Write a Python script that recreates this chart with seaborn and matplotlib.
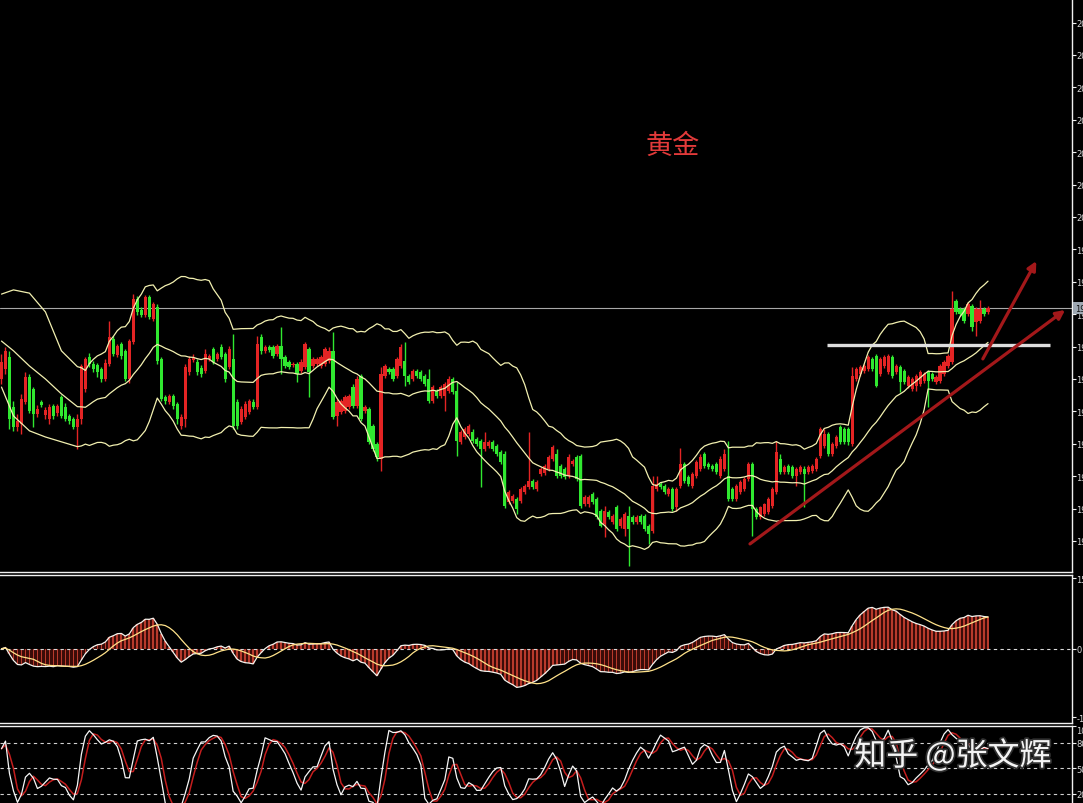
import numpy as np
import pandas as pd
import matplotlib
matplotlib.use("Agg")
import matplotlib.pyplot as plt
import seaborn as sns
from matplotlib import patheffects

# ---------------- hourly gold candles (oldest first) ----------------
opens = [
    1950.0, 1953.1, 1956.8, 1941.4, 1935.2, 1936.2, 1942.9, 1950.6, 1946.9, 1939.2,
    1942.9, 1938.9, 1937.7, 1941.7, 1939.5, 1944.5, 1941.4, 1938.6, 1937.7, 1935.2,
    1937.7, 1946.9, 1956.8, 1954.6, 1954.3, 1953.1, 1950.0, 1954.6, 1962.4, 1957.4,
    1960.8, 1958.7, 1950.0, 1961.4, 1974.7, 1971.3, 1969.8, 1975.3, 1968.5, 1972.2,
    1956.2, 1944.5, 1942.9, 1944.8, 1942.3, 1935.5, 1937.7, 1952.2, 1955.9, 1955.3,
    1953.4, 1952.5, 1956.2, 1959.3, 1956.2, 1959.9, 1957.8, 1953.7, 1956.2, 1942.9,
    1936.8, 1938.3, 1939.8, 1942.9, 1941.4, 1963.0, 1958.7, 1959.9, 1959.9, 1957.8,
    1960.2, 1956.8, 1955.3, 1954.3, 1954.6, 1952.5, 1953.7, 1959.3, 1954.0, 1954.6,
    1954.0, 1954.6, 1955.6, 1958.7, 1938.6, 1939.8, 1940.2, 1941.4, 1947.5, 1941.7,
    1951.0, 1940.2, 1940.8, 1935.5, 1929.9, 1925.3, 1951.0, 1953.1, 1953.1, 1951.0,
    1954.0, 1955.6, 1951.0, 1950.0, 1952.5, 1952.2, 1951.0, 1950.0, 1943.3, 1946.3,
    1944.8, 1944.8, 1946.3, 1950.0, 1946.3, 1930.6, 1932.1, 1933.1, 1933.7, 1931.5,
    1930.9, 1928.4, 1929.3, 1930.6, 1929.3, 1927.5, 1926.9, 1912.1, 1912.4, 1913.0,
    1912.4, 1915.1, 1916.7, 1918.5, 1916.1, 1920.7, 1921.0, 1922.3, 1925.3, 1926.9,
    1923.2, 1922.3, 1920.1, 1923.8, 1925.9, 1926.2, 1911.4, 1911.4, 1914.5, 1913.0,
    1909.3, 1905.3, 1909.0, 1905.9, 1910.5, 1904.7, 1903.7, 1907.7, 1907.4, 1905.9,
    1907.7, 1907.7, 1904.7, 1903.1, 1916.1, 1917.6, 1917.0, 1914.5, 1916.1, 1910.5,
    1917.0, 1923.8, 1919.8, 1917.0, 1920.1, 1922.3, 1926.9, 1923.8, 1923.2, 1923.8,
    1920.1, 1922.3, 1920.1, 1916.1, 1913.0, 1915.1, 1916.1, 1919.2, 1923.8, 1909.9,
    1907.4, 1908.3, 1909.0, 1910.8, 1915.1, 1925.3, 1921.3, 1923.2, 1922.9, 1920.1,
    1921.3, 1922.3, 1921.3, 1921.6, 1922.3, 1926.2, 1929.3, 1933.1, 1926.9, 1929.3,
    1935.2, 1934.6, 1934.6, 1929.9, 1950.0, 1951.5, 1952.5, 1953.1, 1956.2, 1957.1,
    1951.5, 1954.0, 1952.2, 1956.8, 1952.2, 1953.7, 1952.5, 1947.9, 1946.9, 1947.9,
    1948.5, 1949.4, 1952.2, 1951.5, 1949.1, 1949.4, 1951.5, 1954.0, 1955.3, 1974.1,
    1971.6, 1971.6, 1970.1, 1972.5, 1967.6, 1967.9, 1971.6, 1970.7,
]
highs = [
    1957.8, 1959.9, 1958.7, 1943.3, 1939.2, 1945.4, 1952.2, 1951.5, 1947.5, 1942.0,
    1943.6, 1941.4, 1942.3, 1942.3, 1942.3, 1945.1, 1942.6, 1939.2, 1938.3, 1939.2,
    1954.6, 1956.8, 1958.1, 1955.5, 1954.9, 1953.7, 1956.2, 1967.9, 1963.3, 1960.8,
    1961.4, 1959.3, 1962.4, 1976.2, 1975.6, 1972.2, 1975.9, 1975.9, 1973.8, 1973.2,
    1956.8, 1945.1, 1945.4, 1945.4, 1942.9, 1939.2, 1954.6, 1957.1, 1957.8, 1956.2,
    1954.3, 1959.3, 1957.8, 1959.9, 1958.4, 1960.8, 1958.4, 1960.2, 1963.9, 1943.9,
    1941.7, 1943.3, 1943.9, 1943.9, 1963.3, 1963.9, 1960.5, 1960.5, 1960.5, 1960.8,
    1966.1, 1957.4, 1955.9, 1955.3, 1955.3, 1956.2, 1961.4, 1959.9, 1956.8, 1956.8,
    1957.4, 1959.9, 1959.9, 1964.5, 1943.9, 1943.9, 1945.1, 1945.4, 1948.5, 1951.0,
    1951.6, 1942.0, 1941.4, 1936.2, 1930.5, 1953.7, 1954.6, 1953.7, 1953.7, 1956.8,
    1960.8, 1961.4, 1951.5, 1953.1, 1953.1, 1952.8, 1951.5, 1953.1, 1948.2, 1946.9,
    1948.2, 1949.1, 1951.0, 1950.6, 1949.1, 1934.3, 1935.2, 1936.1, 1934.6, 1932.1,
    1931.5, 1933.7, 1931.2, 1931.2, 1929.9, 1928.1, 1927.8, 1915.7, 1914.5, 1913.6,
    1916.7, 1917.6, 1933.7, 1919.2, 1918.8, 1922.9, 1923.8, 1926.6, 1929.6, 1928.4,
    1923.8, 1922.9, 1926.9, 1925.3, 1926.6, 1926.9, 1914.2, 1914.2, 1915.1, 1913.6,
    1909.9, 1910.8, 1909.6, 1908.3, 1911.1, 1907.4, 1909.0, 1910.8, 1908.0, 1908.0,
    1908.3, 1908.3, 1905.3, 1920.1, 1920.1, 1918.2, 1917.6, 1916.7, 1916.7, 1916.7,
    1928.8, 1924.4, 1920.4, 1921.3, 1925.0, 1926.9, 1927.5, 1924.4, 1923.8, 1924.4,
    1926.2, 1928.4, 1930.9, 1916.7, 1917.6, 1918.8, 1919.8, 1924.4, 1924.4, 1910.5,
    1910.8, 1911.7, 1913.6, 1916.7, 1930.9, 1926.9, 1923.5, 1923.8, 1923.5, 1922.9,
    1923.5, 1923.2, 1923.5, 1923.8, 1925.9, 1935.2, 1934.6, 1933.7, 1930.5, 1932.7,
    1935.8, 1935.2, 1935.2, 1953.7, 1953.7, 1954.3, 1954.6, 1957.4, 1956.8, 1957.8,
    1956.8, 1957.4, 1957.8, 1957.4, 1954.6, 1954.3, 1953.1, 1951.2, 1950.6, 1951.5,
    1952.8, 1952.2, 1952.8, 1952.2, 1951.2, 1954.6, 1955.9, 1957.8, 1977.2, 1974.7,
    1972.2, 1972.2, 1973.8, 1973.2, 1972.2, 1974.4, 1972.2, 1972.5,
]
lows = [
    1948.5, 1951.5, 1934.6, 1934.0, 1934.0, 1933.1, 1942.3, 1939.5, 1935.2, 1938.3,
    1941.4, 1937.7, 1936.2, 1937.7, 1938.6, 1938.0, 1937.1, 1936.2, 1934.6, 1928.4,
    1936.2, 1946.0, 1953.7, 1952.2, 1950.6, 1949.1, 1949.4, 1954.0, 1957.1, 1956.8,
    1956.2, 1949.4, 1948.8, 1960.8, 1969.8, 1969.1, 1969.1, 1968.5, 1967.9, 1954.6,
    1943.3, 1942.3, 1942.3, 1940.8, 1936.2, 1934.6, 1935.2, 1951.2, 1955.3, 1951.2,
    1950.6, 1951.9, 1955.6, 1954.6, 1955.6, 1956.2, 1949.1, 1953.1, 1934.6, 1934.6,
    1936.2, 1937.7, 1939.2, 1940.8, 1940.8, 1957.8, 1958.1, 1958.4, 1956.5, 1957.1,
    1951.5, 1953.4, 1953.1, 1953.7, 1949.1, 1951.9, 1953.1, 1944.5, 1953.4, 1954.0,
    1953.4, 1954.0, 1954.9, 1937.7, 1935.5, 1939.2, 1939.5, 1940.8, 1941.1, 1941.1,
    1937.1, 1939.5, 1929.9, 1927.8, 1924.7, 1921.6, 1950.3, 1951.5, 1949.4, 1950.3,
    1953.4, 1947.9, 1948.5, 1949.4, 1950.3, 1949.4, 1947.9, 1942.6, 1942.6, 1944.2,
    1944.2, 1940.2, 1945.7, 1945.4, 1926.2, 1929.9, 1931.5, 1932.4, 1930.3, 1929.3,
    1916.7, 1927.8, 1928.7, 1927.8, 1926.2, 1923.8, 1910.2, 1911.4, 1911.8, 1908.3,
    1911.8, 1914.5, 1916.1, 1916.1, 1915.4, 1920.1, 1920.4, 1921.6, 1924.7, 1919.5,
    1919.5, 1919.2, 1919.5, 1923.2, 1918.5, 1910.2, 1910.8, 1910.5, 1911.4, 1906.8,
    1904.4, 1901.3, 1906.8, 1905.3, 1903.1, 1904.0, 1901.6, 1892.3, 1905.3, 1905.3,
    1905.3, 1903.1, 1899.1, 1902.5, 1915.4, 1916.1, 1914.5, 1913.9, 1909.3, 1909.3,
    1916.4, 1917.9, 1917.0, 1916.4, 1919.5, 1921.6, 1922.6, 1922.3, 1921.6, 1920.7,
    1919.5, 1921.6, 1912.4, 1912.4, 1912.4, 1914.5, 1915.4, 1918.5, 1901.6, 1906.8,
    1906.8, 1907.7, 1908.3, 1910.2, 1914.5, 1920.7, 1920.7, 1920.7, 1919.5, 1917.0,
    1920.7, 1910.5, 1920.7, 1921.0, 1921.6, 1925.6, 1928.7, 1926.2, 1926.2, 1928.7,
    1929.9, 1929.9, 1929.6, 1929.3, 1949.4, 1950.9, 1951.9, 1952.5, 1952.5, 1947.6,
    1950.9, 1953.4, 1951.5, 1950.3, 1951.5, 1946.0, 1948.5, 1947.2, 1946.3, 1946.3,
    1947.9, 1948.8, 1941.4, 1949.4, 1948.5, 1948.8, 1950.9, 1953.4, 1954.6, 1970.1,
    1969.5, 1967.3, 1969.5, 1964.8, 1963.3, 1967.3, 1969.5, 1970.1,
]
closes = [
    1955.3, 1958.7, 1937.7, 1935.2, 1937.1, 1943.9, 1950.6, 1940.2, 1939.2, 1940.8,
    1942.0, 1940.5, 1941.4, 1938.6, 1941.7, 1938.6, 1937.7, 1937.1, 1935.2, 1937.7,
    1954.0, 1956.2, 1954.6, 1953.1, 1952.2, 1950.0, 1954.9, 1963.0, 1957.8, 1960.2,
    1957.1, 1950.0, 1961.8, 1974.7, 1970.7, 1969.8, 1975.3, 1969.1, 1973.2, 1955.5,
    1943.9, 1943.3, 1944.8, 1941.7, 1937.7, 1938.3, 1953.7, 1956.2, 1956.5, 1952.2,
    1951.5, 1957.8, 1957.1, 1955.3, 1957.8, 1956.8, 1950.0, 1959.3, 1935.5, 1935.5,
    1940.8, 1942.3, 1943.3, 1941.4, 1960.8, 1958.7, 1959.9, 1959.0, 1957.1, 1960.2,
    1956.2, 1954.0, 1953.7, 1954.6, 1951.5, 1955.3, 1960.8, 1952.2, 1956.2, 1956.2,
    1956.8, 1959.3, 1958.7, 1938.3, 1942.9, 1943.3, 1944.5, 1944.8, 1941.7, 1950.0,
    1937.7, 1941.4, 1930.6, 1928.4, 1925.9, 1951.5, 1954.0, 1952.2, 1950.0, 1956.2,
    1959.9, 1951.0, 1949.1, 1952.5, 1951.0, 1950.0, 1948.5, 1943.3, 1947.5, 1944.8,
    1947.5, 1948.5, 1950.0, 1946.0, 1930.9, 1933.7, 1934.6, 1935.5, 1930.9, 1929.9,
    1928.4, 1930.6, 1930.6, 1928.4, 1926.9, 1924.4, 1910.8, 1915.1, 1913.9, 1909.9,
    1916.1, 1917.0, 1918.5, 1916.7, 1918.2, 1922.3, 1923.2, 1925.9, 1929.0, 1920.1,
    1920.1, 1919.8, 1925.9, 1924.7, 1919.2, 1910.8, 1913.6, 1913.6, 1912.1, 1907.4,
    1904.7, 1909.3, 1907.4, 1907.7, 1903.7, 1906.8, 1908.3, 1903.7, 1905.9, 1907.4,
    1905.9, 1903.7, 1902.2, 1917.0, 1917.6, 1916.7, 1915.1, 1916.1, 1909.9, 1916.1,
    1923.8, 1918.5, 1917.6, 1920.7, 1924.4, 1925.9, 1923.2, 1922.9, 1922.3, 1921.3,
    1925.3, 1926.9, 1913.0, 1913.0, 1917.0, 1918.2, 1919.2, 1923.8, 1909.9, 1907.4,
    1910.5, 1911.4, 1913.0, 1916.1, 1927.5, 1921.3, 1922.9, 1921.3, 1920.1, 1922.3,
    1922.9, 1920.7, 1922.9, 1923.2, 1925.3, 1934.6, 1933.1, 1926.9, 1929.9, 1932.1,
    1930.6, 1930.6, 1930.6, 1951.0, 1953.1, 1953.7, 1954.0, 1956.8, 1953.1, 1947.9,
    1956.2, 1956.8, 1957.1, 1951.0, 1954.0, 1949.1, 1949.1, 1950.6, 1950.0, 1951.0,
    1952.2, 1951.5, 1949.4, 1950.0, 1950.6, 1954.0, 1955.3, 1957.1, 1971.6, 1970.7,
    1970.1, 1967.9, 1973.2, 1966.1, 1971.6, 1971.6, 1970.1, 1971.9,
]

# Bollinger values for the first bars, before a full 20-bar window exists
band_head_bars = [0, 3, 7, 11, 15]
band_head_upper = [1976.2, 1977.5, 1976.5, 1970.7, 1958.7]
band_head_mid = [1961.7, 1958.7, 1954.0, 1950.0, 1945.4]
band_head_lower = [1947.5, 1938.6, 1934.0, 1932.1, 1930.6]

price_ticks = list(range(1900, 2061, 10))
stoch_ticks = [100, 80, 50, 20, 0]
stoch_levels = [80, 50, 20]

# hand-drawn annotations: (bar, price)
support_level = 1960.4
support_span = (206.7, 262.5)
trend_arrow = ((187.4, 1899.1), (266.3, 1971.3))
breakout_arrow = ((245.7, 1956.2), (259.1, 1986.4))

title_text = "黄金"
watermark_text = "知乎 @张文辉"

# ---------------- indicators ----------------
df = pd.DataFrame({"open": opens, "high": highs, "low": lows, "close": closes})
n = len(df)
bars = np.arange(n)

mid = df["close"].rolling(20).mean()
sd = df["close"].rolling(20).std(ddof=0)
upper = mid + 2 * sd
lower = mid - 2 * sd


def with_head(series, head):
    s = series.copy()
    s.iloc[band_head_bars] = head
    return s.dropna()


bb_upper = with_head(upper, band_head_upper)
bb_mid = with_head(mid, band_head_mid)
bb_lower = with_head(lower, band_head_lower)

ema_fast = df["close"].ewm(span=12, adjust=False).mean()
ema_slow = df["close"].ewm(span=26, adjust=False).mean()
macd = ema_fast - ema_slow
signal = macd.rolling(9, min_periods=1).mean()

# slow stochastic 9/3/3
ll = df["low"].rolling(9, min_periods=1).min()
hh = df["high"].rolling(9, min_periods=1).max()
stoch_k = 100 * (df["close"] - ll).rolling(3, min_periods=1).sum() / \
    (hh - ll).rolling(3, min_periods=1).sum()
stoch_d = stoch_k.rolling(3, min_periods=1).mean()

# ---------------- figure ----------------
sns.set_theme(style="dark", rc={"axes.facecolor": "black", "figure.facecolor": "black"})
plt.rcParams["font.family"] = ["Noto Sans CJK SC", "DejaVu Sans"]

W, H = 1083, 804
fig = plt.figure(figsize=(W / 100, H / 100), dpi=100, facecolor="black")


def box(x0, y0, x1, y1):
    return [x0 / W, 1 - y1 / H, (x1 - x0) / W, (y1 - y0) / H]


AX_RIGHT = 1071.5
ax = fig.add_axes(box(0, 0, AX_RIGHT, 572.5))
ax_macd = fig.add_axes(box(0, 575.5, AX_RIGHT, 724))
ax_sto = fig.add_axes(box(0, 727, AX_RIGHT, 811.5))

px_per_bar = 3.994
xlim = (-1.5 / px_per_bar, (AX_RIGHT - 1.5) / px_per_bar)

UP = "#e42424"
DOWN = "#30e830"
BAND = "#f2f0b0"
AXIS = "#f0f0f0"
LABEL = "#d8d8d8"

for a in (ax, ax_macd, ax_sto):
    a.set_facecolor("black")
    a.set_xlim(*xlim)
    a.set_xticks([])
    a.grid(False)
    a.spines["left"].set_visible(False)
    for side in ("right", "bottom", "top"):
        a.spines[side].set_color(AXIS)
        a.spines[side].set_linewidth(1.0)
    a.yaxis.tick_right()
    a.tick_params(axis="y", colors=AXIS, labelcolor=LABEL, length=2.6, width=0.8,
                  pad=0.8, labelsize=6, direction="out")
    a.set_xlabel("")
    a.set_ylabel("")
ax.spines["top"].set_visible(False)

# ---- price panel ----
ax.set_ylim(2067.28 - 572.5 * 0.30864, 2067.28)
ax.set_yticks(price_ticks)
ax.set_yticklabels([f"{p:.2f}" for p in price_ticks], family="DejaVu Sans")

rising = df["close"] >= df["open"]
colors = np.where(rising, UP, DOWN)
ax.vlines(bars, df["low"], df["high"], colors=colors, linewidth=1.0, zorder=3)
body_lo = np.minimum(df["open"], df["close"])
body_h = np.maximum(np.abs(df["close"] - df["open"]), 0.4)
ax.bar(bars, body_h, bottom=body_lo, width=0.8, color=colors, linewidth=0, zorder=4)

for s in (bb_upper, bb_mid, bb_lower):
    sns.lineplot(x=s.index.values, y=s.values, ax=ax, color=BAND, linewidth=0.9,
                 estimator=None, sort=False, legend=False, zorder=5)

last_close = closes[-1]
ax.axhline(last_close, color="#a8a8a8", linewidth=0.8, zorder=2)
ax.annotate(f"{last_close:.2f}", xy=(1.0, last_close), xycoords=("axes fraction", "data"),
            xytext=(2.5, 0), textcoords="offset points", va="center", ha="left",
            fontsize=6, family="DejaVu Sans", color="#101010",
            bbox=dict(boxstyle="square,pad=0.2", fc="#9ea8b2", ec="none"),
            annotation_clip=False, zorder=10)

ax.hlines(support_level, *support_span, color="#dedede", linewidth=2.4, zorder=6)

for (x0, y0), (x1, y1) in (trend_arrow, breakout_arrow):
    ax.annotate("", xy=(x1, y1), xytext=(x0, y0),
                arrowprops=dict(arrowstyle="-|>", color="#a3181a", lw=2.3,
                                mutation_scale=13, shrinkA=0, shrinkB=0),
                zorder=7, annotation_clip=False)

# ---- MACD panel ----
m_lim = float(np.nanmax(np.abs(macd))) / 0.56
ax_macd.set_ylim(-m_lim, m_lim)
ax_macd.fill_between(bars, 0, macd, step="mid", color="#3a0c08", linewidth=0, zorder=1)
ax_macd.bar(bars, macd, width=0.42, color="#b83a2c", linewidth=0, zorder=2)
ax_macd.axhline(0, color="#d8d8d8", linewidth=0.8, linestyle=(0, (3, 3)), zorder=3)
sns.lineplot(x=bars, y=macd.values, ax=ax_macd, color="#f4f4ee", linewidth=0.9,
             estimator=None, sort=False, legend=False, zorder=4)
sns.lineplot(x=bars, y=signal.values, ax=ax_macd, color="#ffe28a", linewidth=0.9,
             estimator=None, sort=False, legend=False, zorder=5)
macd_ticks = [m_lim * 0.95, 0, -m_lim * 0.92]
ax_macd.set_yticks(macd_ticks)
ax_macd.set_yticklabels([f"{v:.4f}" if v else "0" for v in macd_ticks], family="DejaVu Sans")

# ---- stochastic panel ----
ax_sto.set_ylim(0, 100)
for lvl in stoch_levels:
    ax_sto.axhline(lvl, color="#d0d0d0", linewidth=0.8, linestyle=(0, (3, 3)), zorder=1)
sns.lineplot(x=bars, y=stoch_d.values, ax=ax_sto, color="#c41e1e", linewidth=1.1,
             estimator=None, sort=False, legend=False, zorder=3)
sns.lineplot(x=bars, y=stoch_k.values, ax=ax_sto, color="#f6f6f6", linewidth=0.9,
             estimator=None, sort=False, legend=False, zorder=4)
ax_sto.set_yticks(stoch_ticks)
ax_sto.set_yticklabels([str(t) for t in stoch_ticks], family="DejaVu Sans")
ax_sto.get_yticklabels()[0].set_va("top")
ax_sto.spines["bottom"].set_visible(False)

# ---- texts ----
fig.text(673 / W, 1 - 146 / H, title_text, color="#e23a3a", fontsize=19.5,
         ha="center", va="center", family=["Noto Sans CJK SC", "DejaVu Sans"])
wm = fig.text(953 / W, 1 - 757 / H, watermark_text, color="#f4f4f4", fontsize=23,
              ha="center", va="center", family=["Noto Sans CJK SC", "DejaVu Sans"], zorder=20)
wm.set_path_effects([patheffects.withStroke(linewidth=2.5, foreground="#303030")])

fig.savefig("out.png", dpi=100, facecolor="black")
